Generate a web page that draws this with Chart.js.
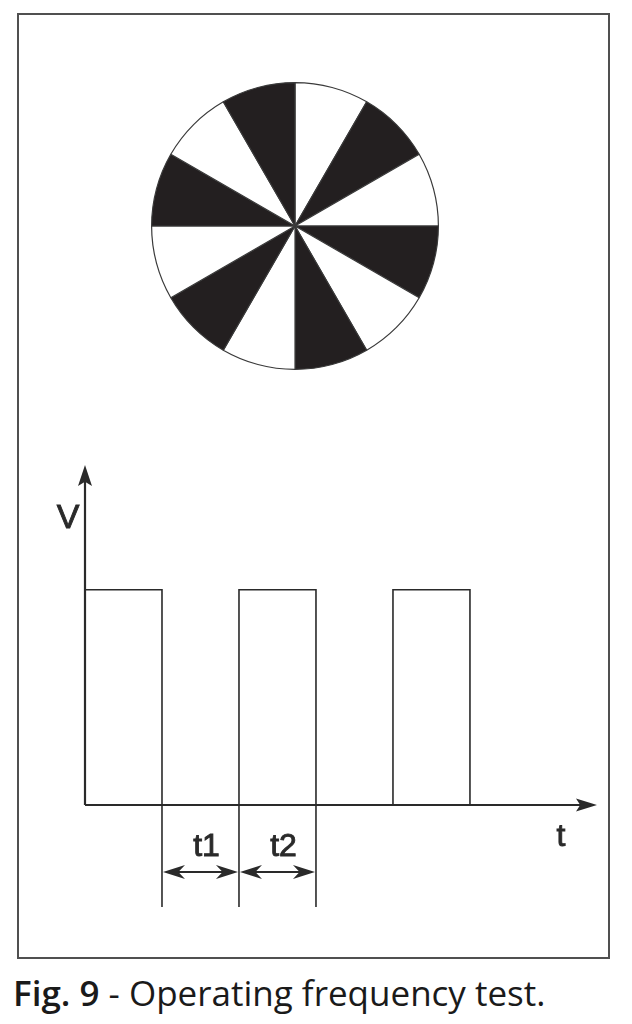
<!DOCTYPE html>
<html><head><meta charset="utf-8">
<script src="https://cdn.jsdelivr.net/npm/chart.js@4.4.1/dist/chart.umd.min.js"></script>
<style>
html,body{margin:0;padding:0;background:#fff;width:632px;height:1024px;overflow:hidden;}
#frame{position:absolute;left:17px;top:13px;width:589px;height:942px;border:2.5px solid #505050;}
#wheel{position:absolute;left:151px;top:82px;}
#wave{position:absolute;left:0px;top:430px;}
#caption{position:absolute;left:13px;top:970px;font-family:"Open Sans",sans-serif;font-size:35px;color:#1a1a1a;white-space:nowrap;line-height:46px;}
#caption b{font-weight:600;}
</style></head>
<body>
<div id="frame"></div>
<canvas id="wheel" width="288" height="288"></canvas>
<canvas id="wave" width="632" height="510"></canvas>
<div id="caption"><b>Fig. 9</b> - Operating frequency test.</div>
<script>
// ---- data ----
const sectorLabels = ['S1','S2','S3','S4','S5','S6','S7','S8','S9','S10','S11','S12'];
const sectorValues = [1,1,1,1,1,1,1,1,1,1,1,1];
const edgeTimes   = [0, 1, 2, 3, 4, 5];   // switching instants
const edgeLevels  = [1, 0, 1, 0, 1, 0];   // level after each switch
const axisNames   = ['V', 't'];
const intervalLabels = ['t1', 't2'];
const intervalStart  = [1, 2];
const intervalEnd    = [2, 3];
const timeMax = 6.65, levelMax = 1.58, levelMin = -0.474;

// ---- wheel ----
new Chart(document.getElementById('wheel'), {
  type: 'pie',
  data: { labels: sectorLabels, datasets: [{
    data: sectorValues,
    backgroundColor: c => (c.dataIndex % 2 ? '#231f20' : '#ffffff'),
    borderColor: '#3a3a3a', borderWidth: 1.2
  }]},
  options: { responsive:false, animation:false, events:[],
    plugins:{legend:{display:false}, tooltip:{enabled:false}},
    layout:{padding:0} }
});

// ---- square wave ----
const wavePts = [];
let prev = 0;
edgeTimes.forEach((t,i)=>{ wavePts.push({x:t,y:prev}); wavePts.push({x:t,y:edgeLevels[i]}); prev = edgeLevels[i]; });

const INK = '#2a2a2a';
function tri(ctx, tipX, tipY, dx, dy, len, half, notch){
  const bx = tipX - dx*len, by = tipY - dy*len;
  const px = -dy, py = dx;
  ctx.beginPath();
  ctx.moveTo(tipX, tipY);
  ctx.lineTo(bx + px*half, by + py*half);
  ctx.lineTo(tipX - dx*len*notch, tipY - dy*len*notch);
  ctx.lineTo(bx - px*half, by - py*half);
  ctx.closePath();
  ctx.fill();
}
function seg(ctx,x1,y1,x2,y2,w){ ctx.lineWidth=w; ctx.beginPath(); ctx.moveTo(x1,y1); ctx.lineTo(x2,y2); ctx.stroke(); }
function label(ctx, s, x, y){ ctx.fillText(s,x,y); ctx.lineWidth=0.9; ctx.strokeText(s,x,y); }

const overlay = {
  id:'overlay',
  afterDatasetsDraw(chart){
    const {ctx, scales:{x,y}} = chart;
    const X = v=>x.getPixelForValue(v), Y = v=>y.getPixelForValue(v);
    ctx.save();
    ctx.strokeStyle = INK; ctx.fillStyle = INK; ctx.lineCap='butt';
    // axes
    seg(ctx, X(0), Y(0), X(0), Y(levelMax)+14, 2.2);
    tri(ctx, X(0), Y(levelMax), 0, -1, 21, 7, 0.8);
    seg(ctx, X(0), Y(0), X(timeMax)-14, Y(0), 2.2);
    tri(ctx, X(timeMax), Y(0), 1, 0, 21, 6.5, 0.8);
    // extension lines
    const ext = new Set([...intervalStart, ...intervalEnd]);
    ext.forEach(t=>seg(ctx, X(t), Y(0), X(t), Y(levelMin), 1.6));
    // dimension arrows + labels
    const ay = Y(0) + 67;
    ctx.font = '32px "Liberation Sans", Arial, sans-serif';
    ctx.textAlign='center'; ctx.textBaseline='alphabetic';
    intervalLabels.forEach((lab,i)=>{
      const x1 = X(intervalStart[i]), x2 = X(intervalEnd[i]);
      seg(ctx, x1+12, ay, x2-12, ay, 2);
      tri(ctx, x1+1, ay, -1, 0, 22, 7, 0.7);
      tri(ctx, x2-1, ay, 1, 0, 22, 7, 0.7);
      label(ctx, lab, (x1+x2)/2 + 6, Y(0)+51);
    });
    // axis names
    ctx.font = '34px "Liberation Sans", Arial, sans-serif';
    label(ctx, axisNames[0], X(0)-17, Y(levelMax)+63);
    ctx.font = '32px "Liberation Sans", Arial, sans-serif';
    label(ctx, axisNames[1], X(timeMax)-36, Y(0)+41);
    ctx.restore();
  }
};

new Chart(document.getElementById('wave'), {
  type:'line',
  data:{ datasets:[{ data: wavePts, borderColor: INK, borderWidth:1.6, pointRadius:0, fill:false, tension:0 }]},
  options:{ responsive:false, animation:false, events:[],
    layout:{padding:{left:85, right:35, top:35, bottom:33}},
    plugins:{legend:{display:false}, tooltip:{enabled:false}},
    scales:{
      x:{type:'linear', min:0, max:timeMax, display:false},
      y:{type:'linear', min:levelMin, max:levelMax, display:false}
    }
  },
  plugins:[overlay]
});
</script>
</body></html>
